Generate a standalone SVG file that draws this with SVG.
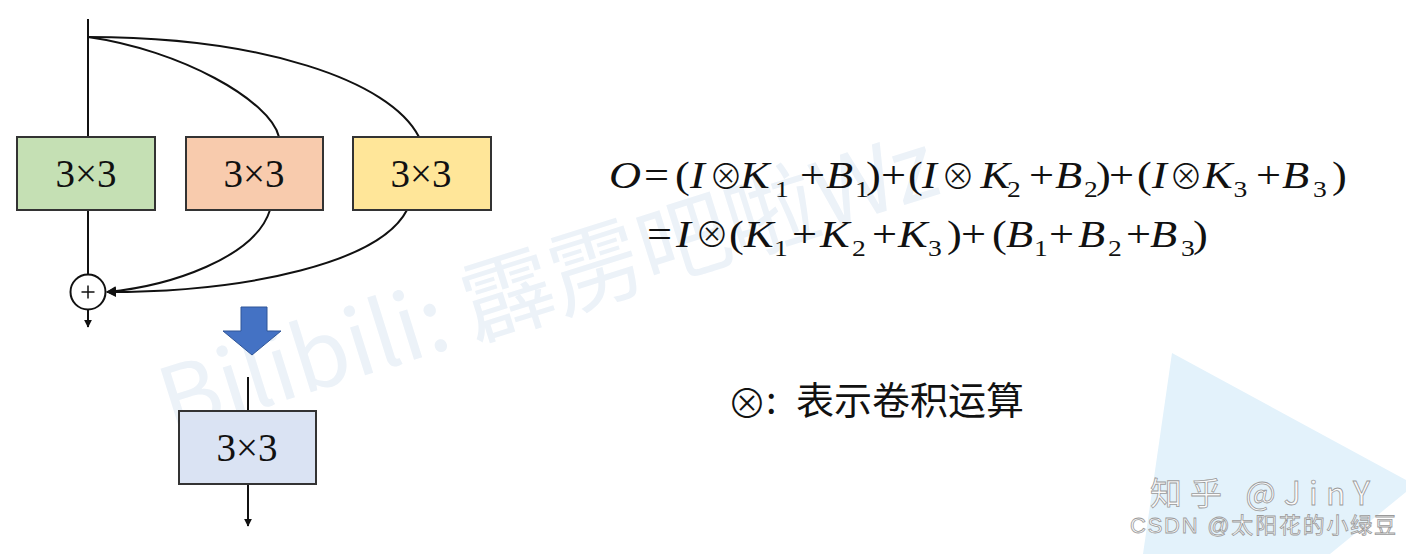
<svg xmlns="http://www.w3.org/2000/svg" width="1406" height="554" viewBox="0 0 1406 554">
<style>
.box{stroke:#333;stroke-width:2}
.lbl{font-family:"Liberation Serif","DejaVu Serif","Noto Serif",serif;font-size:39px;fill:#111;text-anchor:middle}
.wire{fill:none;stroke:#111;stroke-width:2}
.eq{font-family:"Liberation Serif","DejaVu Serif","Noto Serif",serif;font-size:37px;fill:#111}
.it{font-style:italic}
.sub{font-size:23px;font-style:normal}
.otimes{font-family:"Noto Sans CJK SC","DejaVu Sans",sans-serif;font-weight:300;font-size:34px;fill:#111}
.cjk{font-family:"Noto Sans CJK SC","Noto Sans",sans-serif}
.wm{fill:#fafafa;stroke:#9a9a9a;stroke-width:0.8}
</style>
<defs>
<marker id="ah" viewBox="0 0 10 10" refX="9" refY="5" markerWidth="10" markerHeight="10" markerUnits="userSpaceOnUse" orient="auto">
<path d="M0,0 L10,5 L0,10 z" fill="#111"/>
</marker>
<marker id="ahs" viewBox="0 0 10 10" refX="9" refY="5" markerWidth="8" markerHeight="8" markerUnits="userSpaceOnUse" orient="auto">
<path d="M0,0 L10,5 L0,10 z" fill="#111"/>
</marker>
</defs>
<rect width="1406" height="554" fill="#fff"/>

<g id="watermarks">
<polygon points="1172,353 1406,480 1406,492 1330,554 1143,554" fill="#e3f2fb"/>
<text x="0" y="0" transform="translate(172,436) rotate(-17.5)" class="cjk" font-size="92" fill="#ecf2f8">Bilibili: 霹雳吧啦Wz</text>
<text x="1150" y="505" class="cjk wm" font-size="32" textLength="220">知乎 @JinY</text>
<text x="1130" y="533" class="wm" font-family="Liberation Sans, Noto Sans CJK SC, sans-serif" font-size="22" textLength="266">CSDN @太阳花的小绿豆</text>
</g>

<g id="connectors">
<path class="wire" d="M88,19 V137"/>
<path class="wire" d="M88,210 V274"/>
<path class="wire" d="M88,37 C180,50 270,100 279,137"/>
<path class="wire" d="M88,37 C260,37 390,80 419,137"/>
<path class="wire" d="M270,210 C255,258 170,286 107,292" marker-end="url(#ah)"/>
<path class="wire" d="M407,210 C380,262 250,292 107,292" marker-end="url(#ah)"/>
<path class="wire" d="M88,310 V327" marker-end="url(#ahs)"/>
<path class="wire" d="M248,377 V411"/>
<path class="wire" d="M248,484 V526" marker-end="url(#ahs)"/>
</g>

<g id="box-green">
<rect class="box" x="17" y="137" width="138" height="73" fill="#c5e0b4"/>
<text class="lbl" x="86" y="187">3×3</text>
</g>
<g id="box-orange">
<rect class="box" x="186" y="137" width="137" height="73" fill="#f8cbad"/>
<text class="lbl" x="254" y="187">3×3</text>
</g>
<g id="box-yellow">
<rect class="box" x="353" y="137" width="138" height="73" fill="#ffe699"/>
<text class="lbl" x="421" y="187">3×3</text>
</g>
<g id="sum-node">
<circle cx="88" cy="292" r="17.5" fill="#fff" stroke="#111" stroke-width="2"/>
<path d="M81.5,292 H94.5 M88,285.5 V298.5" stroke="#111" stroke-width="1.5"/>
</g>
<g id="blue-arrow">
<polygon points="241,307 267,307 267,331 281,331 252,355 223,331 241,331" fill="#4472c4" stroke="#2f5597" stroke-width="1"/>
</g>
<g id="box-merged">
<rect class="box" x="179" y="411" width="137" height="73" fill="#dae3f3"/>
<text class="lbl" x="247" y="461">3×3</text>
</g>

<g id="equation">
<g transform="translate(600,0) scale(1.2,1)" class="eq">
<text y="188"><tspan class="it" x="7.5">O</tspan><tspan x="36.7">=</tspan><tspan x="62.5">(</tspan><tspan class="it" x="75">I</tspan><tspan class="it" x="116.7">K</tspan><tspan class="sub" x="145.8" dy="9">1</tspan><tspan x="166.7" dy="-9">+</tspan><tspan class="it" x="188.3">B</tspan><tspan class="sub" x="212.5" dy="9">1</tspan><tspan x="221.7" dy="-9">)</tspan><tspan x="234.2">+</tspan><tspan x="256.7">(</tspan><tspan class="it" x="268.3">I</tspan><tspan class="it" x="317">K</tspan><tspan class="sub" x="339.2" dy="9">2</tspan><tspan x="357.5" dy="-9">+</tspan><tspan class="it" x="379.2">B</tspan><tspan class="sub" x="403.3" dy="9">2</tspan><tspan x="413.3" dy="-9">)</tspan><tspan x="424.2">+</tspan><tspan x="447.5">(</tspan><tspan class="it" x="460">I</tspan><tspan class="it" x="502.5">K</tspan><tspan class="sub" x="528" dy="9">3</tspan><tspan x="546.7" dy="-9">+</tspan><tspan class="it" x="568.3">B</tspan><tspan class="sub" x="594.2" dy="9">3</tspan><tspan x="610" dy="-9">)</tspan></text>
<text y="247"><tspan x="39.2">=</tspan><tspan class="it" x="63.3">I</tspan><tspan x="107.5">(</tspan><tspan class="it" x="120">K</tspan><tspan class="sub" x="145" dy="9">1</tspan><tspan x="160" dy="-9">+</tspan><tspan class="it" x="183.3">K</tspan><tspan class="sub" x="210" dy="9">2</tspan><tspan x="226.7" dy="-9">+</tspan><tspan class="it" x="248.3">K</tspan><tspan class="sub" x="273.3" dy="9">3</tspan><tspan x="289.2" dy="-9">)</tspan><tspan x="300.8">+</tspan><tspan x="326.7">(</tspan><tspan class="it" x="338.3">B</tspan><tspan class="sub" x="361.7" dy="9">1</tspan><tspan x="374.2" dy="-9">+</tspan><tspan class="it" x="398.3">B</tspan><tspan class="sub" x="423.3" dy="9">2</tspan><tspan x="438.3" dy="-9">+</tspan><tspan class="it" x="458.3">B</tspan><tspan class="sub" x="484.2" dy="9">3</tspan><tspan x="494.2" dy="-9">)</tspan></text>
</g>
<text class="otimes" x="709" y="189">⊗</text>
<text class="otimes" x="941" y="189">⊗</text>
<text class="otimes" x="1169" y="189">⊗</text>
<text class="otimes" x="695" y="246.5">⊗</text>
</g>

<g id="legend">
<text x="727" y="417.5" class="otimes" style="font-size:40px">⊗</text>
<text x="766" y="414" class="cjk" font-size="38" fill="#111">:</text>
<text x="796" y="414" class="cjk" font-size="38" fill="#111">表示卷积运算</text>
</g>
</svg>
